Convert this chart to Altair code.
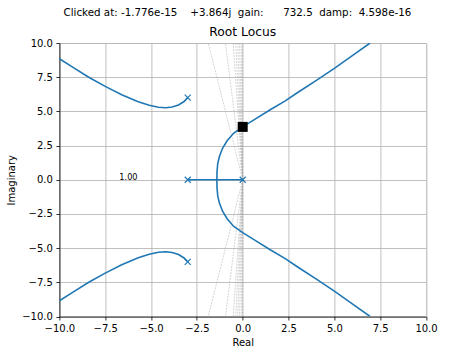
import altair as alt
import pandas as pd

# ---- data ----
# upper-left branch (from pole at -3+6j out to the left edge)
ul_x = [-3.0, -3.2, -3.5, -3.85, -4.2, -4.6, -5.1, -5.7, -6.6, -7.5, -8.4, -9.3, -10.0]
ul_y = [6.0, 5.72, 5.47, 5.32, 5.27, 5.3, 5.45, 5.7, 6.22, 6.83, 7.5, 8.25, 8.85]
# lower-left branch (mirror image)
ll_x = [-3.0, -3.2, -3.5, -3.85, -4.2, -4.6, -5.1, -5.7, -6.6, -7.5, -8.4, -9.3, -10.0]
ll_y = [-6.0, -5.72, -5.47, -5.32, -5.27, -5.3, -5.45, -5.7, -6.22, -6.83, -7.5, -8.25, -8.85]
# upper-right branch (from breakaway point to the top edge)
ur_x = [-1.41, -1.40, -1.36, -1.27, -1.1, -0.85, -0.5, 0.0, 0.7, 1.5, 2.3, 3.0, 4.0, 5.0, 6.0, 6.95]
ur_y = [0.0, 0.6, 1.2, 1.7, 2.3, 2.85, 3.4, 3.87, 4.45, 5.12, 5.75, 6.38, 7.25, 8.15, 9.1, 10.0]
# lower-right branch
lr_x = [-1.41, -1.40, -1.36, -1.27, -1.1, -0.85, -0.5, 0.0, 0.7, 1.5, 2.3, 3.0, 4.0, 5.0, 6.0, 6.95]
lr_y = [0.0, -0.6, -1.2, -1.7, -2.3, -2.85, -3.4, -3.87, -4.45, -5.12, -5.75, -6.38, -7.25, -8.15, -9.1, -10.0]
# real-axis segment
ra_x = [-3.0, 0.0]
ra_y = [0.0, 0.0]

# open-loop poles
pole_x = [-3.0, -3.0, -3.0, 0.0]
pole_y = [6.0, -6.0, 0.0, 0.0]

# clicked point
click_x = [0.0]
click_y = [3.864]

# damping-ratio grid lines: x where each line reaches the top / bottom edge
zeta_edge_x = [-1.88, -0.94, -0.52, -0.38, -0.27, -0.17, -0.08, 0.0]
zeta_edge_y = [10.0, -10.0]
zeta_label = ["1.00"]
zeta_label_x = [-6.73]
zeta_label_y = [0.0]

ticks = [-10.0, -7.5, -5.0, -2.5, 0.0, 2.5, 5.0, 7.5, 10.0]
title_text = "Root Locus"
suptitle = "Clicked at: -1.776e-15\u00a0\u00a0\u00a0\u00a0+3.864j\u00a0\u00a0gain:\u00a0\u00a0\u00a0\u00a0\u00a0\u00a0732.5\u00a0\u00a0damp:\u00a0\u00a04.598e-16"

# ---- build tables ----
rows = []
for name, xs, ys in [("ul", ul_x, ul_y), ("ll", ll_x, ll_y), ("ur", ur_x, ur_y),
                     ("lr", lr_x, lr_y), ("ra", ra_x, ra_y)]:
    for i, (a, b) in enumerate(zip(xs, ys)):
        rows.append({"x": a, "y": b, "branch": name, "i": i})
branches = pd.DataFrame(rows)

zrows = []
k = 0
for ex in zeta_edge_x:
    for ey in zeta_edge_y:
        zrows.append({"x": 0.0, "y": 0.0, "line": k, "i": 0})
        zrows.append({"x": ex, "y": ey, "line": k, "i": 1})
        k += 1
zeta_df = pd.DataFrame(zrows)

poles = pd.DataFrame({"x": pole_x, "y": pole_y})
click = pd.DataFrame({"x": click_x, "y": click_y})
zlab = pd.DataFrame({"x": zeta_label_x, "y": zeta_label_y, "t": zeta_label})
sup = pd.DataFrame({"t": [suptitle]})
ttl = pd.DataFrame({"t": [title_text]})

FONT = "DejaVu Sans"
xscale = alt.Scale(domain=[-10, 10], nice=False, zero=False)
yscale = alt.Scale(domain=[-10, 10], nice=False, zero=False)

axis_common = dict(
    values=ticks, format=".1f", grid=True, gridColor="#b0b0b0", gridWidth=0.8,
    domainColor="black", domainWidth=0.8, tickColor="black", tickSize=3.5,
    tickWidth=0.8, labelFont=FONT, labelFontSize=10, labelColor="black",
    titleFont=FONT, titleFontSize=10, titleFontWeight="normal", titleColor="black",
    labelPadding=3.5, labelFlush=False, labelOverlap=False,
)
xaxis = alt.Axis(title="Real", titlePadding=4, **axis_common)
yaxis = alt.Axis(title="Imaginary", titlePadding=5, **axis_common)

X = alt.X("x:Q", scale=xscale, axis=xaxis)
Y = alt.Y("y:Q", scale=yscale, axis=yaxis)

zeta_lines = alt.Chart(zeta_df).mark_line(
    color="#a8a8a8", strokeWidth=0.5, strokeDash=[2, 1], clip=True
).encode(x=X, y=Y, detail="line:N", order="i:Q")

locus = alt.Chart(branches).mark_line(
    color="#1f77b4", strokeWidth=1.6, clip=True
).encode(x=X, y=Y, detail="branch:N", order="i:Q")

pole_marks = alt.Chart(poles).mark_point(
    shape="M-1,-1L1,1M-1,1L1,-1", size=36, color="#1f77b4", filled=False,
    strokeWidth=1.2, opacity=1
).encode(x=X, y=Y)

click_mark = alt.Chart(click).mark_square(
    size=100, color="black", opacity=1
).encode(x=X, y=Y)

zeta_text = alt.Chart(zlab).mark_text(
    align="left", baseline="alphabetic", font=FONT, fontSize=8.2, color="black"
).encode(x=X, y=Y, text="t:N")

sup_text = alt.Chart(sup).mark_text(
    align="center", baseline="alphabetic", font=FONT, fontSize=10.3, color="black"
).encode(text="t:N", x=alt.value(178), y=alt.value(-27))

title_mark = alt.Chart(ttl).mark_text(
    align="center", baseline="alphabetic", font=FONT, fontSize=12.3, color="black"
).encode(text="t:N", x=alt.value(183.3), y=alt.value(-7))

chart = alt.layer(
    zeta_lines, locus, pole_marks, click_mark, zeta_text, sup_text, title_mark
).properties(
    width=366.6,
    height=273.5,
    autosize=alt.AutoSizeParams(type="none"),
    padding={"left": 59.4, "top": 43, "right": 48, "bottom": 38.5},
).configure_view(
    stroke="black", strokeWidth=0.8
).configure(background="white")

chart.save("out.html", embed_options={"renderer": "svg", "actions": False})
